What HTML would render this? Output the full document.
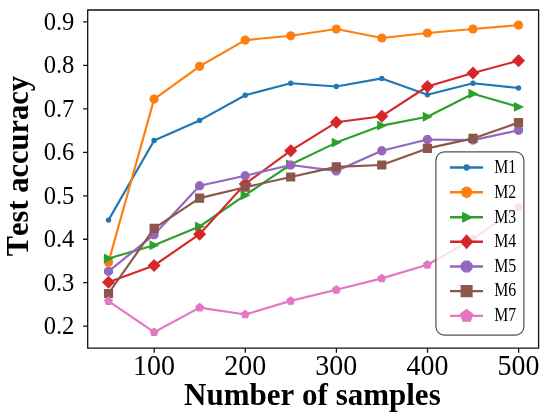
<!DOCTYPE html>
<html lang="en"><head><meta charset="utf-8"><title>Test accuracy vs number of samples</title>
<style>
html,body{margin:0;padding:0;background:#fff;}
body{width:550px;height:416px;overflow:hidden;}
svg{display:block;}
text{font-family:"Liberation Serif",serif;fill:#000;}
.tk{font-size:24.6px;}
.xk{font-size:28.8px;}
.lb{font-size:31.0px;font-weight:bold;font-kerning:none;}
.yl{font-size:30.5px;}
.lg{font-size:18.3px;}
</style></head><body>
<svg width="550" height="416" viewBox="0 0 550 416">
<rect x="0" y="0" width="550" height="416" fill="#fff"/>

<g>
<g><polyline points="108.5,220.1 154.1,140.5 199.6,120.4 245.2,95.3 290.7,83.2 336.3,86.5 381.8,78.4 427.4,94.8 473,83.2 518.5,88" fill="none" stroke="#1f77b4" stroke-width="2.15" stroke-linejoin="round" stroke-linecap="butt"/>
<circle cx="108.5" cy="220.1" r="2.7" fill="#1f77b4"/>
<circle cx="154.1" cy="140.5" r="2.7" fill="#1f77b4"/>
<circle cx="199.6" cy="120.4" r="2.7" fill="#1f77b4"/>
<circle cx="245.2" cy="95.3" r="2.7" fill="#1f77b4"/>
<circle cx="290.7" cy="83.2" r="2.7" fill="#1f77b4"/>
<circle cx="336.3" cy="86.5" r="2.7" fill="#1f77b4"/>
<circle cx="381.8" cy="78.4" r="2.7" fill="#1f77b4"/>
<circle cx="427.4" cy="94.8" r="2.7" fill="#1f77b4"/>
<circle cx="473" cy="83.2" r="2.7" fill="#1f77b4"/>
<circle cx="518.5" cy="88" r="2.7" fill="#1f77b4"/>
</g>
<g><polyline points="108.5,262.2 154.1,99.1 199.6,66.3 245.2,40.1 290.7,35.8 336.3,29 381.8,38 427.4,33 473,29 518.5,25.1" fill="none" stroke="#ff7f0e" stroke-width="2.15" stroke-linejoin="round" stroke-linecap="butt"/>
<circle cx="108.5" cy="262.2" r="4.6" fill="#ff7f0e"/>
<circle cx="154.1" cy="99.1" r="4.6" fill="#ff7f0e"/>
<circle cx="199.6" cy="66.3" r="4.6" fill="#ff7f0e"/>
<circle cx="245.2" cy="40.1" r="4.6" fill="#ff7f0e"/>
<circle cx="290.7" cy="35.8" r="4.6" fill="#ff7f0e"/>
<circle cx="336.3" cy="29" r="4.6" fill="#ff7f0e"/>
<circle cx="381.8" cy="38" r="4.6" fill="#ff7f0e"/>
<circle cx="427.4" cy="33" r="4.6" fill="#ff7f0e"/>
<circle cx="473" cy="29" r="4.6" fill="#ff7f0e"/>
<circle cx="518.5" cy="25.1" r="4.6" fill="#ff7f0e"/>
</g>
<g><polyline points="108.5,258.5 154.1,245.3 199.6,226.5 245.2,195.2 290.7,164.5 336.3,142.6 381.8,125.6 427.4,116.7 473,93.7 518.5,106.9" fill="none" stroke="#2ca02c" stroke-width="2.15" stroke-linejoin="round" stroke-linecap="butt"/>
<polygon points="112.5,258.5 104.5,254.5 104.5,262.5" fill="#2ca02c" stroke="#2ca02c" stroke-width="1.2" stroke-linejoin="miter"/>
<polygon points="158.1,245.3 150.1,241.3 150.1,249.3" fill="#2ca02c" stroke="#2ca02c" stroke-width="1.2" stroke-linejoin="miter"/>
<polygon points="203.6,226.5 195.6,222.5 195.6,230.5" fill="#2ca02c" stroke="#2ca02c" stroke-width="1.2" stroke-linejoin="miter"/>
<polygon points="249.2,195.2 241.2,191.2 241.2,199.2" fill="#2ca02c" stroke="#2ca02c" stroke-width="1.2" stroke-linejoin="miter"/>
<polygon points="294.7,164.5 286.7,160.5 286.7,168.5" fill="#2ca02c" stroke="#2ca02c" stroke-width="1.2" stroke-linejoin="miter"/>
<polygon points="340.3,142.6 332.3,138.6 332.3,146.6" fill="#2ca02c" stroke="#2ca02c" stroke-width="1.2" stroke-linejoin="miter"/>
<polygon points="385.8,125.6 377.8,121.6 377.8,129.6" fill="#2ca02c" stroke="#2ca02c" stroke-width="1.2" stroke-linejoin="miter"/>
<polygon points="431.4,116.7 423.4,112.7 423.4,120.7" fill="#2ca02c" stroke="#2ca02c" stroke-width="1.2" stroke-linejoin="miter"/>
<polygon points="477,93.7 469,89.7 469,97.7" fill="#2ca02c" stroke="#2ca02c" stroke-width="1.2" stroke-linejoin="miter"/>
<polygon points="522.5,106.9 514.5,102.9 514.5,110.9" fill="#2ca02c" stroke="#2ca02c" stroke-width="1.2" stroke-linejoin="miter"/>
</g>
<g><polyline points="108.5,282.3 154.1,265.5 199.6,234.2 245.2,183.9 290.7,150.7 336.3,122.3 381.8,116.2 427.4,86.5 473,73 518.5,60.7" fill="none" stroke="#d62728" stroke-width="2.15" stroke-linejoin="round" stroke-linecap="butt"/>
<polygon points="108.5,276.64 114.16,282.3 108.5,287.96 102.84,282.3" fill="#d62728" stroke="#d62728" stroke-width="1.2" stroke-linejoin="miter"/>
<polygon points="154.1,259.84 159.76,265.5 154.1,271.16 148.44,265.5" fill="#d62728" stroke="#d62728" stroke-width="1.2" stroke-linejoin="miter"/>
<polygon points="199.6,228.54 205.26,234.2 199.6,239.86 193.94,234.2" fill="#d62728" stroke="#d62728" stroke-width="1.2" stroke-linejoin="miter"/>
<polygon points="245.2,178.24 250.86,183.9 245.2,189.56 239.54,183.9" fill="#d62728" stroke="#d62728" stroke-width="1.2" stroke-linejoin="miter"/>
<polygon points="290.7,145.04 296.36,150.7 290.7,156.36 285.04,150.7" fill="#d62728" stroke="#d62728" stroke-width="1.2" stroke-linejoin="miter"/>
<polygon points="336.3,116.64 341.96,122.3 336.3,127.96 330.64,122.3" fill="#d62728" stroke="#d62728" stroke-width="1.2" stroke-linejoin="miter"/>
<polygon points="381.8,110.54 387.46,116.2 381.8,121.86 376.14,116.2" fill="#d62728" stroke="#d62728" stroke-width="1.2" stroke-linejoin="miter"/>
<polygon points="427.4,80.84 433.06,86.5 427.4,92.16 421.74,86.5" fill="#d62728" stroke="#d62728" stroke-width="1.2" stroke-linejoin="miter"/>
<polygon points="473,67.34 478.66,73 473,78.66 467.34,73" fill="#d62728" stroke="#d62728" stroke-width="1.2" stroke-linejoin="miter"/>
<polygon points="518.5,55.04 524.16,60.7 518.5,66.36 512.84,60.7" fill="#d62728" stroke="#d62728" stroke-width="1.2" stroke-linejoin="miter"/>
</g>
<g><polyline points="108.5,271.3 154.1,234.7 199.6,185.8 245.2,175.8 290.7,165 336.3,170.9 381.8,150.8 427.4,139.5 473,140.1 518.5,130.3" fill="none" stroke="#9467bd" stroke-width="2.15" stroke-linejoin="round" stroke-linecap="butt"/>
<polygon points="110.12,267.38 112.42,269.68 112.42,272.92 110.12,275.22 106.88,275.22 104.58,272.92 104.58,269.68 106.88,267.38" fill="#9467bd" stroke="#9467bd" stroke-width="1.2" stroke-linejoin="miter"/>
<polygon points="155.72,230.78 158.02,233.08 158.02,236.32 155.72,238.62 152.48,238.62 150.18,236.32 150.18,233.08 152.48,230.78" fill="#9467bd" stroke="#9467bd" stroke-width="1.2" stroke-linejoin="miter"/>
<polygon points="201.22,181.88 203.52,184.18 203.52,187.42 201.22,189.72 197.98,189.72 195.68,187.42 195.68,184.18 197.98,181.88" fill="#9467bd" stroke="#9467bd" stroke-width="1.2" stroke-linejoin="miter"/>
<polygon points="246.82,171.88 249.12,174.18 249.12,177.42 246.82,179.72 243.58,179.72 241.28,177.42 241.28,174.18 243.58,171.88" fill="#9467bd" stroke="#9467bd" stroke-width="1.2" stroke-linejoin="miter"/>
<polygon points="292.32,161.08 294.62,163.38 294.62,166.62 292.32,168.92 289.08,168.92 286.78,166.62 286.78,163.38 289.08,161.08" fill="#9467bd" stroke="#9467bd" stroke-width="1.2" stroke-linejoin="miter"/>
<polygon points="337.92,166.98 340.22,169.28 340.22,172.52 337.92,174.82 334.68,174.82 332.38,172.52 332.38,169.28 334.68,166.98" fill="#9467bd" stroke="#9467bd" stroke-width="1.2" stroke-linejoin="miter"/>
<polygon points="383.42,146.88 385.72,149.18 385.72,152.42 383.42,154.72 380.18,154.72 377.88,152.42 377.88,149.18 380.18,146.88" fill="#9467bd" stroke="#9467bd" stroke-width="1.2" stroke-linejoin="miter"/>
<polygon points="429.02,135.58 431.32,137.88 431.32,141.12 429.02,143.42 425.78,143.42 423.48,141.12 423.48,137.88 425.78,135.58" fill="#9467bd" stroke="#9467bd" stroke-width="1.2" stroke-linejoin="miter"/>
<polygon points="474.62,136.18 476.92,138.48 476.92,141.72 474.62,144.02 471.38,144.02 469.08,141.72 469.08,138.48 471.38,136.18" fill="#9467bd" stroke="#9467bd" stroke-width="1.2" stroke-linejoin="miter"/>
<polygon points="520.12,126.38 522.42,128.68 522.42,131.92 520.12,134.22 516.88,134.22 514.58,131.92 514.58,128.68 516.88,126.38" fill="#9467bd" stroke="#9467bd" stroke-width="1.2" stroke-linejoin="miter"/>
</g>
<g><polyline points="108.5,293.5 154.1,228.4 199.6,198.1 245.2,187.2 290.7,177 336.3,166.9 381.8,165 427.4,148.4 473,138.4 518.5,122.6" fill="none" stroke="#8c564b" stroke-width="2.15" stroke-linejoin="round" stroke-linecap="butt"/>
<polygon points="104.5,289.5 112.5,289.5 112.5,297.5 104.5,297.5" fill="#8c564b" stroke="#8c564b" stroke-width="1.2" stroke-linejoin="miter"/>
<polygon points="150.1,224.4 158.1,224.4 158.1,232.4 150.1,232.4" fill="#8c564b" stroke="#8c564b" stroke-width="1.2" stroke-linejoin="miter"/>
<polygon points="195.6,194.1 203.6,194.1 203.6,202.1 195.6,202.1" fill="#8c564b" stroke="#8c564b" stroke-width="1.2" stroke-linejoin="miter"/>
<polygon points="241.2,183.2 249.2,183.2 249.2,191.2 241.2,191.2" fill="#8c564b" stroke="#8c564b" stroke-width="1.2" stroke-linejoin="miter"/>
<polygon points="286.7,173 294.7,173 294.7,181 286.7,181" fill="#8c564b" stroke="#8c564b" stroke-width="1.2" stroke-linejoin="miter"/>
<polygon points="332.3,162.9 340.3,162.9 340.3,170.9 332.3,170.9" fill="#8c564b" stroke="#8c564b" stroke-width="1.2" stroke-linejoin="miter"/>
<polygon points="377.8,161 385.8,161 385.8,169 377.8,169" fill="#8c564b" stroke="#8c564b" stroke-width="1.2" stroke-linejoin="miter"/>
<polygon points="423.4,144.4 431.4,144.4 431.4,152.4 423.4,152.4" fill="#8c564b" stroke="#8c564b" stroke-width="1.2" stroke-linejoin="miter"/>
<polygon points="469,134.4 477,134.4 477,142.4 469,142.4" fill="#8c564b" stroke="#8c564b" stroke-width="1.2" stroke-linejoin="miter"/>
<polygon points="514.5,118.6 522.5,118.6 522.5,126.6 514.5,126.6" fill="#8c564b" stroke="#8c564b" stroke-width="1.2" stroke-linejoin="miter"/>
</g>
<g><polyline points="108.5,301.1 154.1,332.2 199.6,307.6 245.2,314.5 290.7,300.9 336.3,289.8 381.8,278.4 427.4,264.8 473,238.9 518.5,207.4" fill="none" stroke="#e377c2" stroke-width="2.15" stroke-linejoin="round" stroke-linecap="butt"/>
<polygon points="108.5,297.1 112.3,299.86 110.85,304.34 106.15,304.34 104.7,299.86" fill="#e377c2" stroke="#e377c2" stroke-width="1.2" stroke-linejoin="miter"/>
<polygon points="154.1,328.2 157.9,330.96 156.45,335.44 151.75,335.44 150.3,330.96" fill="#e377c2" stroke="#e377c2" stroke-width="1.2" stroke-linejoin="miter"/>
<polygon points="199.6,303.6 203.4,306.36 201.95,310.84 197.25,310.84 195.8,306.36" fill="#e377c2" stroke="#e377c2" stroke-width="1.2" stroke-linejoin="miter"/>
<polygon points="245.2,310.5 249,313.26 247.55,317.74 242.85,317.74 241.4,313.26" fill="#e377c2" stroke="#e377c2" stroke-width="1.2" stroke-linejoin="miter"/>
<polygon points="290.7,296.9 294.5,299.66 293.05,304.14 288.35,304.14 286.9,299.66" fill="#e377c2" stroke="#e377c2" stroke-width="1.2" stroke-linejoin="miter"/>
<polygon points="336.3,285.8 340.1,288.56 338.65,293.04 333.95,293.04 332.5,288.56" fill="#e377c2" stroke="#e377c2" stroke-width="1.2" stroke-linejoin="miter"/>
<polygon points="381.8,274.4 385.6,277.16 384.15,281.64 379.45,281.64 378,277.16" fill="#e377c2" stroke="#e377c2" stroke-width="1.2" stroke-linejoin="miter"/>
<polygon points="427.4,260.8 431.2,263.56 429.75,268.04 425.05,268.04 423.6,263.56" fill="#e377c2" stroke="#e377c2" stroke-width="1.2" stroke-linejoin="miter"/>
<polygon points="473,234.9 476.8,237.66 475.35,242.14 470.65,242.14 469.2,237.66" fill="#e377c2" stroke="#e377c2" stroke-width="1.2" stroke-linejoin="miter"/>
<polygon points="518.5,203.4 522.3,206.16 520.85,210.64 516.15,210.64 514.7,206.16" fill="#e377c2" stroke="#e377c2" stroke-width="1.2" stroke-linejoin="miter"/>
</g>
</g>
<path d="M87.7 9.5V348.6M538.6 9.5V348.6M87.2 10H539.1M87.2 348.1H539.1" fill="none" stroke="#111" stroke-width="1.3"/>
<path d="M154.2 348.1V352.8 M245.3 348.1V352.8 M336.4 348.1V352.8 M427.5 348.1V352.8 M518.6 348.1V352.8 M83.1 21.9H87.7 M83.1 65.37H87.7 M83.1 108.84H87.7 M83.1 152.31H87.7 M83.1 195.78H87.7 M83.1 239.25H87.7 M83.1 282.72H87.7 M83.1 326.19H87.7" stroke="#111" stroke-width="1.3" fill="none"/>
<text class="tk" x="74.4" y="29.9" text-anchor="end">0.9</text>
<text class="tk" x="74.4" y="73.37" text-anchor="end">0.8</text>
<text class="tk" x="74.4" y="116.84" text-anchor="end">0.7</text>
<text class="tk" x="74.4" y="160.31" text-anchor="end">0.6</text>
<text class="tk" x="74.4" y="203.78" text-anchor="end">0.5</text>
<text class="tk" x="74.4" y="247.25" text-anchor="end">0.4</text>
<text class="tk" x="74.4" y="290.72" text-anchor="end">0.3</text>
<text class="tk" x="74.4" y="334.19" text-anchor="end">0.2</text>
<text class="xk" transform="translate(154.1 375) scale(0.972 1)" text-anchor="middle">100</text>
<text class="xk" transform="translate(245.2 375) scale(0.972 1)" text-anchor="middle">200</text>
<text class="xk" transform="translate(336.3 375) scale(0.972 1)" text-anchor="middle">300</text>
<text class="xk" transform="translate(427.4 375) scale(0.972 1)" text-anchor="middle">400</text>
<text class="xk" transform="translate(518.5 375) scale(0.972 1)" text-anchor="middle">500</text>
<text class="lb" x="312.4" y="404.5" text-anchor="middle">Number of samples</text>
<text class="lb yl" transform="translate(28.3 166.15) rotate(-90)" text-anchor="middle">Test accuracy</text>
<rect x="435.9" y="151.9" width="88" height="183.2" rx="8.5" ry="8.5" fill="#fff" fill-opacity="0.78" stroke="#505050" stroke-width="1.2"/>
<path d="M450 167.5H483" stroke="#1f77b4" stroke-width="2.4" fill="none"/>
<circle cx="466.6" cy="167.5" r="3.15" fill="#1f77b4"/>
<text class="lg" transform="translate(494.2 172.8) scale(0.865 1)">M1</text>
<path d="M450 192.3H483" stroke="#ff7f0e" stroke-width="2.4" fill="none"/>
<circle cx="466.6" cy="192.3" r="5.7" fill="#ff7f0e"/>
<text class="lg" transform="translate(494.2 197.6) scale(0.865 1)">M2</text>
<path d="M450 217.3H483" stroke="#2ca02c" stroke-width="2.4" fill="none"/>
<polygon points="472.2,217.3 462.6,212.4 462.6,222.2" fill="#2ca02c" stroke="#2ca02c" stroke-width="1" stroke-linejoin="miter"/>
<text class="lg" transform="translate(494.2 222.6) scale(0.865 1)">M3</text>
<path d="M450 241.8H483" stroke="#d62728" stroke-width="2.4" fill="none"/>
<polygon points="466.6,235.2 472.5,241.8 466.6,248.4 460.7,241.8" fill="#d62728" stroke="#d62728" stroke-width="1.2" stroke-linejoin="miter"/>
<text class="lg" transform="translate(494.2 247.1) scale(0.865 1)">M4</text>
<path d="M450 266.5H483" stroke="#9467bd" stroke-width="2.4" fill="none"/>
<polygon points="468.81,261.16 471.94,264.29 471.94,268.71 468.81,271.84 464.39,271.84 461.26,268.71 461.26,264.29 464.39,261.16" fill="#9467bd" stroke="#9467bd" stroke-width="1.2" stroke-linejoin="miter"/>
<text class="lg" transform="translate(494.2 271.8) scale(0.865 1)">M5</text>
<path d="M450 291.1H483" stroke="#8c564b" stroke-width="2.4" fill="none"/>
<polygon points="461.15,285.65 472.05,285.65 472.05,296.55 461.15,296.55" fill="#8c564b" stroke="#8c564b" stroke-width="1.2" stroke-linejoin="miter"/>
<text class="lg" transform="translate(494.2 296.4) scale(0.865 1)">M6</text>
<path d="M450 315.9H483" stroke="#e377c2" stroke-width="2.4" fill="none"/>
<polygon points="466.6,309.5 472.69,313.92 470.36,321.08 462.84,321.08 460.51,313.92" fill="#e377c2" stroke="#e377c2" stroke-width="1.2" stroke-linejoin="miter"/>
<text class="lg" transform="translate(494.2 321.2) scale(0.865 1)">M7</text>
</svg></body></html>
